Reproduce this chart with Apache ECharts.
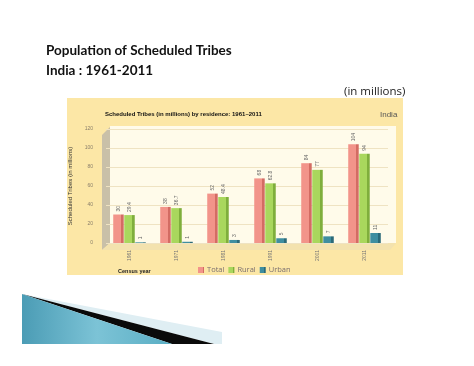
<!DOCTYPE html>
<html><head><meta charset="utf-8">
<script src="https://cdn.jsdelivr.net/npm/echarts@6/dist/echarts.min.js"></script>
<style>html,body{margin:0;padding:0;background:#fff}#c{width:474px;height:366px}</style>
</head><body><div id="c"></div>
<script>
const years = ['1961','1971','1981','1991','2001','2011'];
const total = [30, 38, 52, 68, 84, 104];
const rural = [29.4, 36.7, 48.4, 62.8, 77, 94];
const urban = [0.7, 1.3, 3.2, 5, 7, 10.5];
const totalLabels = ['30','38','52','68','84','104'];
const ruralLabels = ['29.4','36.7','48.4','62.8','77','94'];
const urbanLabels = ['1','1','3','5','7','11'];

function grad(light, dark){
  return new echarts.graphic.LinearGradient(0,0,1,0,[
    {offset:0,color:light},{offset:0.75,color:light},{offset:0.76,color:dark},{offset:1,color:dark}]);
}
const lbl = (arr)=>({show:true,position:'top',rotate:90,align:'left',verticalAlign:'middle',distance:3,
  fontSize:5,color:'#666',fontFamily:'Liberation Sans',formatter:p=>arr[p.dataIndex]});

const chart = echarts.init(document.getElementById('c'),null,{renderer:'canvas'});
chart.setOption({
  animation:false,
  backgroundColor:'#ffffff',
  graphic:[
    {type:'rect',z:-10,shape:{x:67,y:98,width:336,height:177},style:{fill:'#fce7a6'}},
    {type:'rect',z:-9,shape:{x:110,y:126,width:286,height:117},style:{fill:'#fffbea'}},
    {type:'polygon',z:-8,shape:{points:[[102,135],[110,127],[110,243],[102,250]]},style:{fill:'#c9c0a8'}},
    {type:'polygon',z:-8,shape:{points:[[102,250],[110,243],[396,243],[390,250]]},style:{fill:'#f3e2ae'}},
    {type:'polygon',shape:{points:[[22,294],[222,332],[222,344],[214,344]]},style:{fill:'#dfeef3'}},
    {type:'polygon',shape:{points:[[22,294],[214,344],[172,344]]},style:{fill:'#0a0a0a'}},
    {type:'polygon',shape:{points:[[22,294],[172,344],[22,344]]},style:{fill:new echarts.graphic.LinearGradient(0,0,1,0,[{offset:0,color:'#4b9cb5'},{offset:0.5,color:'#7cc3d6'},{offset:1,color:'#5aaec4'}])}}
  ],
  title:[
    {text:'Population of Scheduled Tribes\nIndia : 1961-2011',left:41,top:36,
     textStyle:{fontFamily:'Lato',fontWeight:'bold',fontSize:13.5,color:'#111',lineHeight:20}},
    {text:'(in millions)',left:339,top:81,textStyle:{fontFamily:'Open Sans',fontWeight:'normal',fontSize:11.5,color:'#222'}},
    {text:'Scheduled Tribes (in millions) by residence: 1961\u20132011',left:100,top:106,
     textStyle:{fontFamily:'Liberation Sans',fontWeight:'bold',fontSize:6,color:'#111'}},
    {text:'India',left:375,top:106,textStyle:{fontFamily:'Liberation Sans',fontWeight:'normal',fontSize:8,color:'#555'}},
    {text:'Census year',left:113,top:263,textStyle:{fontFamily:'Liberation Sans',fontWeight:'bold',fontSize:5.5,color:'#222'}}
  ],
  legend:{left:193,top:261,itemWidth:6,itemHeight:6,itemGap:4,icon:'rect',
    textStyle:{fontFamily:'Open Sans',fontSize:7.5,color:'#7a6f6f',padding:[0,0,0,-2]},
    data:['Total','Rural','Urban']},
  grid:{left:106,top:129,width:282,height:114,show:false},
  xAxis:{type:'category',data:years,
    axisLine:{show:false},axisTick:{show:false},
    axisLabel:{rotate:90,fontSize:5,color:'#777',margin:7,fontFamily:'Liberation Sans'}},
  yAxis:{type:'value',min:0,max:120,interval:20,
    name:'Scheduled Tribes (in millions)',nameLocation:'middle',nameGap:25,
    nameTextStyle:{fontSize:6,color:'#333',fontFamily:'Liberation Sans'},
    axisLine:{show:false},axisTick:{show:false},
    axisLabel:{fontSize:5,color:'#8a7f6a',margin:13,fontFamily:'Liberation Sans'},
    splitLine:{lineStyle:{color:'#efe3c2',width:1}}},
  series:[
    {name:'Total',type:'bar',data:total,barWidth:10.5,barGap:'5%',
     itemStyle:{color:grad('#f2948a','#d36c63')},label:lbl(totalLabels)},
    {name:'Rural',type:'bar',data:rural,barWidth:10.5,
     itemStyle:{color:grad('#a9d75d','#7fae3c')},label:lbl(ruralLabels)},
    {name:'Urban',type:'bar',data:urban,barWidth:10.5,
     itemStyle:{color:grad('#3e8ea0','#2b6a79')},label:lbl(urbanLabels)}
  ]
});
</script></body></html>
